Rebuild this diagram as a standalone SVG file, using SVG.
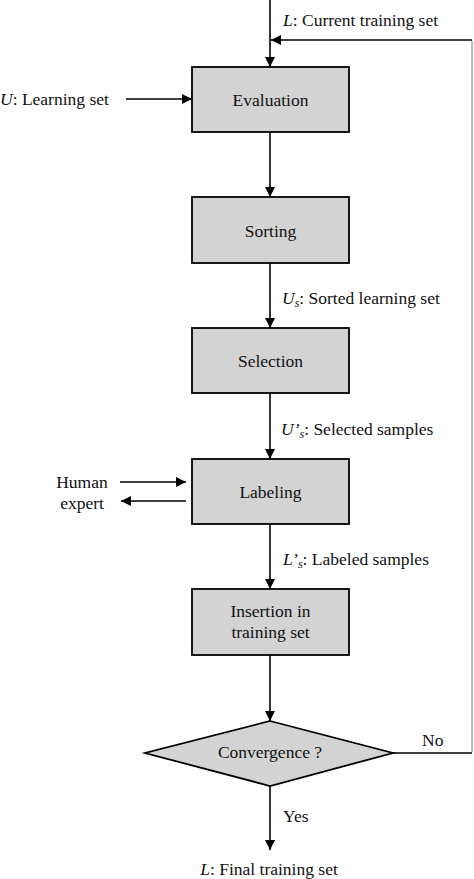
<svg xmlns="http://www.w3.org/2000/svg" width="474" height="879" viewBox="0 0 474 879">
<defs>
<marker id="ah" viewBox="0 0 10 10" refX="10" refY="5" markerWidth="10" markerHeight="10" markerUnits="userSpaceOnUse" orient="auto">
<path d="M0,0 L10,5 L0,10 z" fill="#000"/>
</marker>
<style>
.box{fill:#d3d3d3;stroke:#000;stroke-width:1.8}
.t{font-family:'Liberation Serif','DejaVu Serif',serif;font-size:17.5px;fill:#111}
.c{text-anchor:middle}
.ln{stroke:#000;stroke-width:1.6;fill:none}
.gr{stroke:#bbb;stroke-width:2;fill:none}
</style>
</defs>
<rect width="474" height="879" fill="#fff"/>
<g id="connectors">
<line class="ln" x1="270" y1="0" x2="270" y2="67" marker-end="url(#ah)"/>
<line class="ln" x1="472" y1="40" x2="271" y2="40" marker-end="url(#ah)"/>
<line class="gr" x1="472" y1="41" x2="472" y2="752"/>
<line class="ln" x1="393" y1="753" x2="472" y2="753"/>
<line class="ln" x1="126" y1="99" x2="192" y2="99" marker-end="url(#ah)"/>
<line class="ln" x1="270" y1="132" x2="270" y2="197" marker-end="url(#ah)"/>
<line class="ln" x1="270" y1="263" x2="270" y2="328" marker-end="url(#ah)"/>
<line class="ln" x1="270" y1="393" x2="270" y2="459" marker-end="url(#ah)"/>
<line class="ln" x1="120" y1="482" x2="186" y2="482" marker-end="url(#ah)"/>
<line class="ln" x1="186" y1="501" x2="121" y2="501" marker-end="url(#ah)"/>
<line class="ln" x1="270" y1="524" x2="270" y2="589" marker-end="url(#ah)"/>
<line class="ln" x1="270" y1="655" x2="270" y2="721" marker-end="url(#ah)"/>
<line class="ln" x1="270" y1="786" x2="270" y2="850" marker-end="url(#ah)"/>
<text class="t" x="283" y="26" font-family="Liberation Serif"><tspan font-style="italic">L</tspan>: Current training set</text>
<text class="t" x="0" y="105"><tspan font-style="italic">U</tspan>: Learning set</text>
<text class="t" x="282" y="304"><tspan font-style="italic">U<tspan font-size="12" dy="3">s</tspan></tspan><tspan dy="-3">: Sorted learning set</tspan></text>
<text class="t" x="281" y="435"><tspan font-style="italic">U’<tspan font-size="12" dy="3">s</tspan></tspan><tspan dy="-3">: Selected samples</tspan></text>
<text class="t" x="82" y="488" text-anchor="middle">Human</text>
<text class="t" x="82" y="509" text-anchor="middle">expert</text>
<text class="t" x="283" y="565"><tspan font-style="italic">L’<tspan font-size="12" dy="3">s</tspan></tspan><tspan dy="-3">: Labeled samples</tspan></text>
<text class="t" x="422" y="746">No</text>
<text class="t" x="283" y="822">Yes</text>
<text class="t c" x="269" y="875"><tspan font-style="italic">L</tspan>: Final training set</text>
</g>
<g id="evaluation">
<rect class="box" x="192" y="67" width="157" height="65"/>
<text class="t c" x="270.5" y="106">Evaluation</text>
</g>
<g id="sorting">
<rect class="box" x="192" y="197" width="157" height="66"/>
<text class="t c" x="270.5" y="237">Sorting</text>
</g>
<g id="selection">
<rect class="box" x="192" y="328" width="157" height="65"/>
<text class="t c" x="270.5" y="367">Selection</text>
</g>
<g id="labeling">
<rect class="box" x="192" y="459" width="157" height="65"/>
<text class="t c" x="270.5" y="498">Labeling</text>
</g>
<g id="insertion">
<rect class="box" x="192" y="589" width="157" height="66"/>
<text class="t c" x="270.5" y="617">Insertion in</text>
<text class="t c" x="270.5" y="638">training set</text>
</g>
<g id="convergence">
<polygon class="box" points="270,721 393,753 270,786 145,753"/>
<text class="t c" x="270" y="758">Convergence ?</text>
</g>
</svg>
